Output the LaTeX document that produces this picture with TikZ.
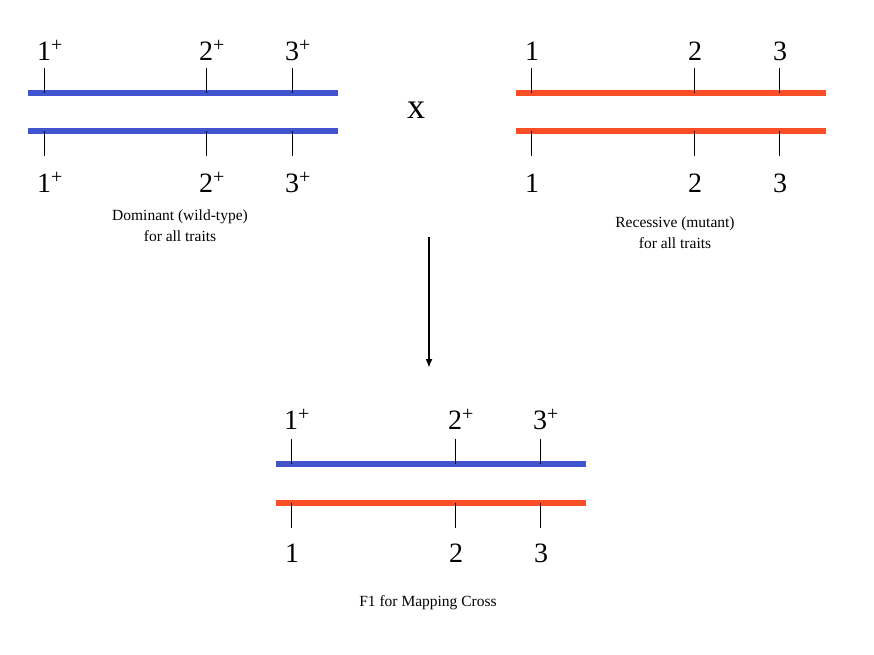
\documentclass[tikz,border=0pt]{standalone}
\usepackage{fontspec}
\usetikzlibrary{arrows.meta}
\setmainfont{Liberation Serif}
\newcommand{\myplus}{\raisebox{9pt}{\fontsize{20}{20}\selectfont +}}
\begin{document}
\begin{tikzpicture}[x=1pt,y=-1pt,
  bl/.style={line width=6pt,draw={rgb,255:red,66;green,84;blue,205}},
  rd/.style={line width=6pt,draw={rgb,255:red,250;green,78;blue,38}},
  tk/.style={line width=0.8pt},
  lab/.style={font=\fontsize{28}{30}\selectfont,inner sep=0pt},
  sm/.style={font=\fontsize{15.5}{21}\selectfont,align=center,inner sep=0pt}]
\useasboundingbox (0,0) rectangle (874,654);
% left pair
\coordinate (la1) at (28,93); \coordinate (la2) at (338,93);
\coordinate (lb1) at (28,131); \coordinate (lb2) at (338,131);
\draw[bl] (la1) -- (la2); \draw[bl] (lb1) -- (lb2);
\foreach \x/\n in {44/1,206/2,292/3}{
  \draw[tk] (\x,68) -- (\x,93); \draw[tk] (\x,131) -- (\x,156);
  \node[lab,anchor=base west] (lt\n) at (\x-7,60) {\n\myplus};
  \node[lab,anchor=base west] (lbt\n) at (\x-7,192) {\n\myplus};}
\node[sm] (dom) at (180,226) {Dominant (wild-type)\\for all traits};
\node[font=\fontsize{36}{36}\selectfont,inner sep=0pt] (x) at (416,110) {x};
% right pair
\coordinate (ra1) at (516,93); \coordinate (ra2) at (826,93);
\coordinate (rb1) at (516,131); \coordinate (rb2) at (826,131);
\draw[rd] (ra1) -- (ra2); \draw[rd] (rb1) -- (rb2);
\foreach \x/\n in {531/1,694/2,779/3}{
  \draw[tk] (\x,68) -- (\x,93); \draw[tk] (\x,131) -- (\x,156);
  \node[lab,anchor=base] (rt\n) at (\x+1,60) {\n};
  \node[lab,anchor=base] (rbt\n) at (\x+1,192) {\n};}
\node[sm] (rec) at (675,233) {Recessive (mutant)\\for all traits};
% arrow
\coordinate (a1) at (429,237); \coordinate (a2) at (429,368);
\draw[line width=1.8pt,-{Latex[length=9pt,width=7pt]}] (a1) -- (a2);
% F1
\coordinate (fa1) at (276,464); \coordinate (fa2) at (586,464);
\coordinate (fb1) at (276,503); \coordinate (fb2) at (586,503);
\draw[bl] (fa1) -- (fa2); \draw[rd] (fb1) -- (fb2);
\foreach \x/\n in {291/1,455/2,540/3}{
  \draw[tk] (\x,439) -- (\x,464); \draw[tk] (\x,503) -- (\x,528);
  \node[lab,anchor=base west] (ft\n) at (\x-7,429) {\n\myplus};
  \node[lab,anchor=base] (fbt\n) at (\x+1,562) {\n};}
\node[sm] (f1) at (428,603) {F1 for Mapping Cross};
\end{tikzpicture}
\end{document}
